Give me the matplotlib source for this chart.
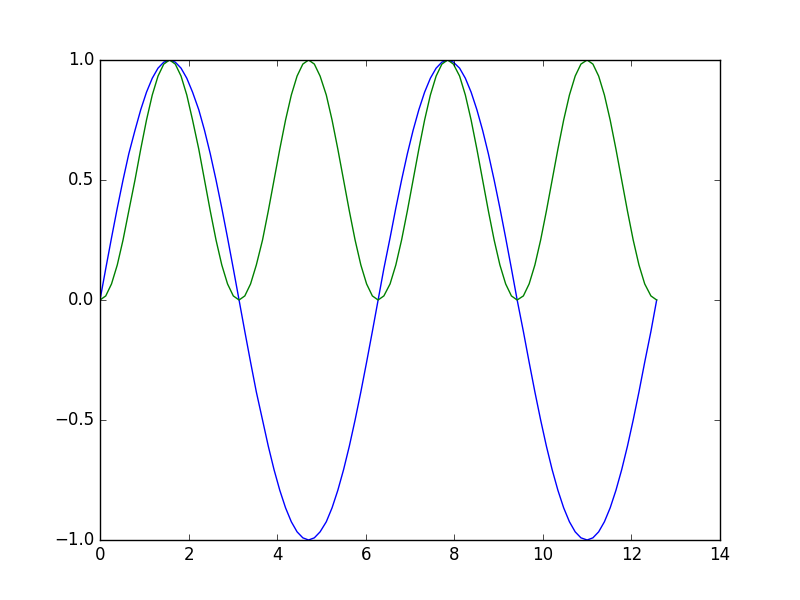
import matplotlib
matplotlib.use("Agg")
import matplotlib.pyplot as plt

# x samples from 0 to 4*pi
xs = [0.0, 0.13, 0.26, 0.39, 0.52, 0.65, 0.79, 0.92, 1.05, 1.18, 1.31, 1.44, 1.57,
      1.70, 1.83, 1.96, 2.09, 2.23, 2.36, 2.49, 2.62, 2.75, 2.88, 3.01, 3.14,
      3.27, 3.40, 3.53, 3.67, 3.80, 3.93, 4.06, 4.19, 4.32, 4.45, 4.58, 4.71,
      4.84, 4.97, 5.11, 5.24, 5.37, 5.50, 5.63, 5.76, 5.89, 6.02, 6.15, 6.28,
      6.41, 6.55, 6.68, 6.81, 6.94, 7.07, 7.20, 7.33, 7.46, 7.59, 7.72, 7.85,
      7.98, 8.12, 8.25, 8.38, 8.51, 8.64, 8.77, 8.90, 9.03, 9.16, 9.29, 9.42,
      9.56, 9.69, 9.82, 9.95, 10.08, 10.21, 10.34, 10.47, 10.60, 10.73, 10.86, 11.00,
      11.13, 11.26, 11.39, 11.52, 11.65, 11.78, 11.91, 12.04, 12.17, 12.30, 12.44, 12.57]

# blue curve
blue_y = [0.0, 0.131, 0.259, 0.383, 0.5, 0.609, 0.707, 0.793, 0.866, 0.924, 0.966, 0.991, 1.0,
          0.991, 0.966, 0.924, 0.866, 0.793, 0.707, 0.609, 0.5, 0.383, 0.259, 0.131, 0.0,
          -0.131, -0.259, -0.383, -0.5, -0.609, -0.707, -0.793, -0.866, -0.924, -0.966, -0.991, -1.0,
          -0.991, -0.966, -0.924, -0.866, -0.793, -0.707, -0.609, -0.5, -0.383, -0.259, -0.131, 0.0,
          0.131, 0.259, 0.383, 0.5, 0.609, 0.707, 0.793, 0.866, 0.924, 0.966, 0.991, 1.0,
          0.991, 0.966, 0.924, 0.866, 0.793, 0.707, 0.609, 0.5, 0.383, 0.259, 0.131, 0.0,
          -0.131, -0.259, -0.383, -0.5, -0.609, -0.707, -0.793, -0.866, -0.924, -0.966, -0.991, -1.0,
          -0.991, -0.966, -0.924, -0.866, -0.793, -0.707, -0.609, -0.5, -0.383, -0.259, -0.131, 0.0]

# green curve
green_y = [0.0, 0.017, 0.067, 0.146, 0.25, 0.371, 0.5, 0.629, 0.75, 0.854, 0.933, 0.983, 1.0,
           0.983, 0.933, 0.854, 0.75, 0.629, 0.5, 0.371, 0.25, 0.146, 0.067, 0.017, 0.0,
           0.017, 0.067, 0.146, 0.25, 0.371, 0.5, 0.629, 0.75, 0.854, 0.933, 0.983, 1.0,
           0.983, 0.933, 0.854, 0.75, 0.629, 0.5, 0.371, 0.25, 0.146, 0.067, 0.017, 0.0,
           0.017, 0.067, 0.146, 0.25, 0.371, 0.5, 0.629, 0.75, 0.854, 0.933, 0.983, 1.0,
           0.983, 0.933, 0.854, 0.75, 0.629, 0.5, 0.371, 0.25, 0.146, 0.067, 0.017, 0.0,
           0.017, 0.067, 0.146, 0.25, 0.371, 0.5, 0.629, 0.75, 0.854, 0.933, 0.983, 1.0,
           0.983, 0.933, 0.854, 0.75, 0.629, 0.5, 0.371, 0.25, 0.146, 0.067, 0.017, 0.0]

x_ticks = [0, 2, 4, 6, 8, 10, 12, 14]
y_ticks = [-1.0, -0.5, 0.0, 0.5, 1.0]

plt.style.use('classic')

fig = plt.figure(figsize=(8, 6), dpi=100, facecolor='white')
ax = fig.add_axes([0.125, 0.1, 0.775, 0.8])

ax.plot(xs, blue_y, color='b', linewidth=1.0)
ax.plot(xs, green_y, color='g', linewidth=1.0)

ax.set_xlim(0, 14)
ax.set_ylim(-1.0, 1.0)
ax.set_xticks(x_ticks)
ax.set_yticks(y_ticks)
ax.tick_params(direction='in', top=True, right=True, labelsize=12)

fig.savefig('out.png', dpi=100, facecolor='white')
